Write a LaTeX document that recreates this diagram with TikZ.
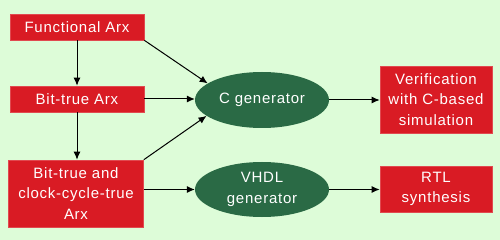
\documentclass[tikz,border=0pt]{standalone}
\usepackage{fontspec}
\setmainfont{Liberation Sans}[LetterSpace=5]
\usetikzlibrary{arrows.meta,shapes.geometric}
\definecolor{bgc}{HTML}{DDFCD8}
\definecolor{redc}{HTML}{D91B24}
\definecolor{greenc}{HTML}{2A6A45}
\begin{document}
\begin{tikzpicture}[x=1pt,y=-1pt,
  redbox/.style={fill=redc,draw=redc!80!white,line width=0.6pt,text=white,inner sep=0pt,align=center,
    font=\fontsize{15pt}{20.5pt}\selectfont},
  genell/.style={ellipse,fill=greenc,draw=none,text=white,inner sep=0pt,align=center,
    font=\fontsize{15pt}{20.5pt}\selectfont},
  conn/.style={-{Latex[length=8pt,width=7pt]},line width=1pt,black}]
\useasboundingbox[fill=bgc] (0,0) rectangle (500,240);
\node[redbox,minimum width=134pt,minimum height=26pt] (fa) at (77,27) {Functional Arx};
\node[redbox,minimum width=134pt,minimum height=26pt] (bt) at (77,99) {Bit-true Arx};
\node[redbox,minimum width=135pt,minimum height=67pt] (bc) at (76,193.5) {Bit-true and\\clock-cycle-true\\Arx};
\node[genell,minimum width=134pt,minimum height=56pt] (cg) at (262,100) {C generator};
\node[genell,minimum width=134pt,minimum height=55pt] (vg) at (262,189.5) {VHDL\\generator};
\node[redbox,minimum width=112pt,minimum height=67pt] (ver) at (436,99.5) {Verification\\with C-based\\simulation};
\node[redbox,minimum width=112pt,minimum height=46pt] (rtl) at (436,189) {RTL\\synthesis};
\draw[conn] (fa.south) -- (bt.north);
\draw[conn] (bt.south) -- (bc.north -| bt.south);
\draw[conn] (fa.south east) -- (cg.163);
\draw[conn] (bt.east) -- (bt.east -| cg.west);
\draw[conn] (bc.north east) -- (cg.196);
\draw[conn] (bc.east |- vg.west) -- (vg.west);
\draw[conn] (cg.east) -- (cg.east -| ver.west);
\draw[conn] (vg.east) -- (vg.east -| rtl.west);
\end{tikzpicture}
\end{document}
